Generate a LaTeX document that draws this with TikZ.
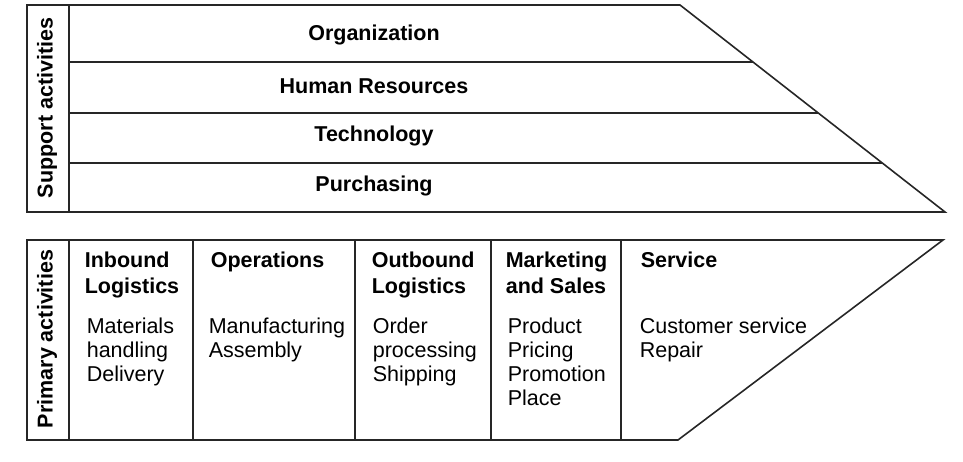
\documentclass[tikz,border=0pt]{standalone}
\usepackage{fontspec}
\setmainfont{Liberation Sans}
\begin{document}
\begin{tikzpicture}[x=1pt,y=-1pt,line width=1.6pt,draw=black!85,
  sup/.style={font=\bfseries\fontsize{21.5}{24}\selectfont},
  hdr/.style={anchor=north west,inner sep=0pt,align=left,font=\bfseries\fontsize{21.5}{26}\selectfont},
  bdy/.style={anchor=north west,inner sep=0pt,align=left,font=\fontsize{21.5}{24}\selectfont},
  vlab/.style={rotate=90,font=\bfseries\fontsize{21.5}{24}\selectfont}]
\useasboundingbox (0,0) rectangle (963,462);
% support block
\draw (27,5) -- (680,5) -- (945,212) -- (27,212) -- cycle;
\draw[line width=1.2pt] (69,5) -- (69,212);
\draw[line width=1.2pt] (69,62) -- (753,62);
\draw[line width=1.2pt] (69,113) -- (818,113);
\draw[line width=1.2pt] (69,163) -- (882,163);
\node[vlab] (sa) at (47,108) {Support activities};
\node[sup] (o) at (374,35) {Organization};
\node[sup] (h) at (374,86) {Human Resources};
\node[sup] (t) at (374,136) {Technology};
\node[sup] (p) at (374,186) {Purchasing};
% primary block
\draw (27,240) -- (943,240) -- (678,440) -- (27,440) -- cycle;
\draw[line width=1.2pt] (69,240) -- (69,440);
\foreach \x in {193,355,491,621} \draw[line width=1.2pt] (\x,240) -- (\x,440);
\node[vlab] (pa) at (47,339) {Primary activities};
\node[hdr] (h1) at (84,251) {Inbound\\Logistics};
\node[hdr] (h2) at (210,251) {Operations};
\node[hdr] (h3) at (371,251) {Outbound\\Logistics};
\node[hdr] (h4) at (505,251) {Marketing\\and Sales};
\node[hdr] (h5) at (640,251) {Service};
\node[bdy] (b1) at (86,317) {Materials\\handling\\Delivery};
\node[bdy] (b2) at (208,317) {Manufacturing\\Assembly};
\node[bdy] (b3) at (372,317) {Order\\processing\\Shipping};
\node[bdy] (b4) at (507,317) {Product\\Pricing\\Promotion\\Place};
\node[bdy] (b5) at (639,317) {Customer service\\Repair};
\end{tikzpicture}
\end{document}
